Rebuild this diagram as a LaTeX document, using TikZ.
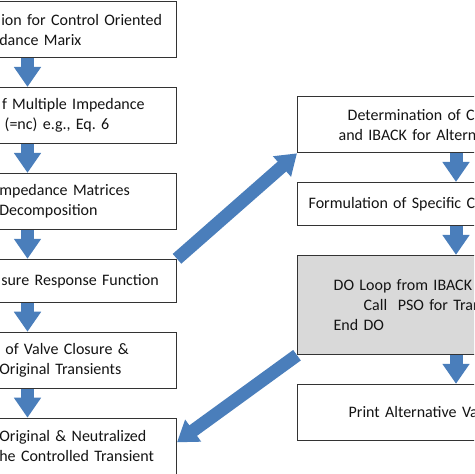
\documentclass[tikz,border=0pt]{standalone}
\usepackage{fontspec}
\setmainfont{Carlito}
\usetikzlibrary{arrows.meta, positioning}
\definecolor{boxline}{HTML}{333333}
\definecolor{loopgrey}{HTML}{D9D9D9}
\definecolor{flowblue}{HTML}{4A7EBB}
\frenchspacing

\begin{document}
\begin{tikzpicture}[x=0.75pt, y=-0.75pt, node distance=21.45pt,
    every node/.style={font=\fontsize{12pt}{15pt}\selectfont, text=black!92},
    box/.style={draw=boxline, line width=1pt, fill=white, align=left, inner ysep=2pt},
    lbox/.style={box, inner xsep=7.5pt, text width=125.25pt, minimum height=42pt},
    blk/.style={line width=9.75pt, draw=flowblue, -{Triangle[length=15pt, width=19.5pt]}}]
  \clip (0,0) rectangle (474,474);
  % left column
  \node[lbox, anchor=north east] (spec) at (177,1) {\hspace*{1.5pt}ion for Control Oriented\\dance Marix};
  \node[lbox, below=of spec] (multi) {\hspace*{2pt}f Multiple Impedance\\\hspace*{4pt}(=nc) e.g., Eq. 6};
  \node[lbox, below=of multi] (decomp) {mpedance Matrices\\Decomposition};
  \node[lbox, below=of decomp, minimum height=32.25pt] (resp) {\hspace*{1.5pt}sure Response Function};
  \node[lbox, below=of resp] (orig) {\hspace*{4.5pt}of Valve Closure \&\\Original Transients};
  \node[lbox, below=of orig] (neut) {Original \& Neutralized\\he Controlled Transient};
  % right column
  \node[box, anchor=north west, inner xsep=30.75pt, text width=133.5pt, minimum height=42pt] (alt) at (297,96)
    {\hspace*{6.75pt}Determination of C\\and IBACK for Altern};
  \node[box, below=of alt, inner xsep=8.25pt, text width=178.5pt, minimum height=32.25pt] (form) {Formulation of Specific C};
  \node[box, below=of form, fill=loopgrey, inner xsep=27pt, text width=141pt, minimum height=74.25pt] (loop)
    {DO Loop from IBACK\\\hspace*{22.5pt}Call\ \ PSO for Tran\\End DO};
  \node[box, below=of loop, inner xsep=38.25pt, text width=118.5pt, minimum height=42pt] (print) {Print Alternative Va};
  % arrows
  \coordinate (lx) at (27.5,0);
  \coordinate (rx) at (456,0);
  \foreach \a/\b in {spec/multi, multi/decomp, decomp/resp, resp/orig, orig/neut}
    \draw[blk] (\a.south -| lx) -- (\b.north -| lx);
  \foreach \a/\b in {alt/form, form/loop, loop/print}
    \draw[blk] (\a.south -| rx) -- (\b.north -| rx);
  \draw[blk] (resp.north east) -- (alt.south west);
  \draw[blk] (loop.south west) -- ([yshift=3pt]neut.east);
\end{tikzpicture}
\end{document}
